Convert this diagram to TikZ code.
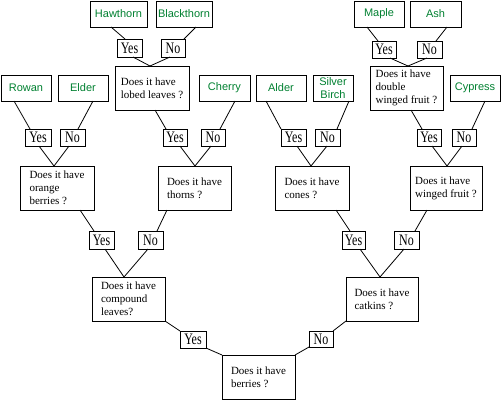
\documentclass[tikz,border=0pt]{standalone}
\usepackage{fontspec}
\setmainfont{Liberation Serif}
\newfontfamily\leaffont{Liberation Sans}
\newfontfamily\ynfont[FakeStretch=0.75]{Liberation Serif}
\definecolor{leafgreen}{RGB}{0,128,48}
\tikzset{
  every picture/.style={x=1pt,y=-1pt},
  allbox/.style={draw=black, line width=0.9pt, inner sep=0pt, outer sep=0pt},
  leafbox/.style={allbox, text=leafgreen, align=center, font=\leaffont\fontsize{11}{13}\selectfont},
  qbox/.style={allbox, align=left, font=\fontsize{11}{13}\selectfont},
  ynbox/.style={allbox, font=\ynfont\fontsize{16}{16}\selectfont},
  link/.style={draw=black, line width=0.8pt}
}
\newcommand\bx[7]{\node[#6, minimum width={#4-#2}, minimum height={#5-#3}] (#1) at ({(#2+#4)/2},{(#3+#5)/2}) {#7};}
\newcommand\cn[4]{\draw[link] ([xshift=#2]#1.south west) -- ([xshift=#4]#3.north west);}
\begin{document}
\begin{tikzpicture}
\useasboundingbox (0,0) rectangle (501,400);
% leaves
\bx{hawthorn}{90}{1}{147}{27}{leafbox}{Hawthorn}
\bx{blackthorn}{156}{1}{212}{27}{leafbox}{Blackthorn}
\bx{rowan}{1}{75}{51}{101}{leafbox}{Rowan}
\bx{elder}{58}{75}{108}{101}{leafbox}{Elder}
\bx{cherry}{199}{75}{250}{101}{leafbox}{Cherry}
\bx{alder}{256}{75}{306}{101}{leafbox}{Alder}
\bx{birch}{313}{75}{353}{101}{leafbox}{Silver\\Birch}
\bx{cypress}{450}{75}{500}{101}{leafbox}{Cypress}
\bx{maple}{354}{1}{404}{27}{leafbox}{Maple}
\bx{ash}{410}{1}{461}{27}{leafbox}{Ash}
% questions
\bx{lobed}{115}{66}{189}{110}{qbox}{Does it have\\lobed leaves ?}
\bx{orange}{20}{166}{94}{210}{qbox}{Does it have\\orange\\berries ?}
\bx{thorns}{158}{166}{231}{210}{qbox}{Does it have\\thorns ?}
\bx{compound}{92}{277}{165}{321}{qbox}{Does it have\\compound\\leaves?}
\bx{berries}{222}{355}{295}{399}{qbox}{Does it have\\berries ?}
\bx{catkins}{346}{277}{418}{321}{qbox}{Does it have\\catkins ?}
\bx{cones}{275}{166}{349}{210}{qbox}{Does it have\\cones ?}
\bx{winged}{410}{166}{482}{210}{qbox}{Does it have\\winged fruit ?}
\bx{double}{370}{66}{443}{110}{qbox}{Does it have\\double\\winged fruit ?}
% yes / no
\bx{y1}{117}{39}{142}{57}{ynbox}{Yes}
\bx{n1}{161}{39}{185}{57}{ynbox}{No}
\bx{y2}{25}{129}{51}{146}{ynbox}{Yes}
\bx{n2}{60}{129}{85}{146}{ynbox}{No}
\bx{y3}{163}{129}{187}{146}{ynbox}{Yes}
\bx{n3}{201}{129}{225}{146}{ynbox}{No}
\bx{y4}{89}{231}{114}{249}{ynbox}{Yes}
\bx{n4}{138}{231}{163}{249}{ynbox}{No}
\bx{y5}{180}{331}{206}{348}{ynbox}{Yes}
\bx{n5}{309}{331}{333}{347}{ynbox}{No}
\bx{y6}{342}{231}{365}{249}{ynbox}{Yes}
\bx{n6}{394}{231}{419}{249}{ynbox}{No}
\bx{y7}{281}{129}{306}{146}{ynbox}{Yes}
\bx{n7}{315}{129}{340}{146}{ynbox}{No}
\bx{y8}{417}{129}{441}{146}{ynbox}{Yes}
\bx{n8}{452}{129}{476}{146}{ynbox}{No}
\bx{y9}{372}{41}{396}{58}{ynbox}{Yes}
\bx{n9}{417}{41}{442}{58}{ynbox}{No}
% connectors
\cn{hawthorn}{21}{y1}{8}
\cn{blackthorn}{40}{n1}{23}
\cn{y1}{16}{lobed}{35}
\cn{n1}{9}{lobed}{35}
\cn{rowan}{13}{y2}{5}
\cn{elder}{35}{n2}{18}
\cn{y2}{14}{orange}{34}
\cn{n2}{9}{orange}{34}
\cn{lobed}{40}{y3}{3}
\cn{cherry}{36}{n3}{19}
\cn{y3}{17}{thorns}{37}
\cn{n3}{10}{thorns}{37}
\cn{orange}{60}{y4}{5}
\cn{thorns}{9}{n4}{19}
\cn{y4}{16}{compound}{32}
\cn{n4}{10}{compound}{32}
\draw[link] (compound.south east) -- (y5.north west);
\draw[link] (y5.south east) -- (berries.north west);
\draw[link] (catkins.south west) -- (n5.north east);
\draw[link] (n5.south west) -- (berries.north east);
\cn{cones}{61}{y6}{8}
\cn{winged}{17}{n6}{21}
\cn{y6}{18}{catkins}{34}
\cn{n6}{10}{catkins}{34}
\cn{maple}{13}{y9}{6}
\cn{ash}{37}{n9}{19}
\cn{y9}{18}{double}{38}
\cn{n9}{10}{double}{38}
\cn{alder}{10}{y7}{0}
\cn{birch}{36}{n7}{22}
\cn{y7}{16}{cones}{36}
\cn{n7}{12}{cones}{36}
\cn{double}{41}{y8}{5}
\cn{cypress}{35}{n8}{20}
\cn{y8}{15}{winged}{37}
\cn{n8}{10}{winged}{37}
\end{tikzpicture}
\end{document}
